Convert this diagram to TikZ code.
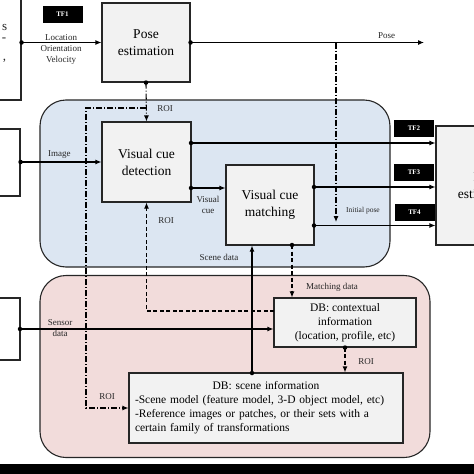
\documentclass[tikz,border=0pt]{standalone}
\usepackage{fontspec}
\setmainfont{Liberation Serif}
\usetikzlibrary{arrows.meta}

\definecolor{visblue}{RGB}{220,230,242}
\definecolor{dbred}{RGB}{242,220,219}
\definecolor{boxgray}{RGB}{242,242,242}

\tikzset{
    block/.style={draw=black!85, fill=boxgray, line width=1.1pt, align=center, inner sep=0pt,
        font=\fontsize{13.5}{17}\selectfont},
    source/.style={draw=black!85, fill=white, line width=1.1pt, inner sep=0pt},
    region/.style={draw=black!85, line width=1.1pt, rounded corners=26pt, inner sep=0pt},
    tfbox/.style={fill=black, text=white, minimum width=40pt, minimum height=17pt, inner sep=0pt,
        font=\fontsize{7}{8}\selectfont\bfseries},
    lbl/.style={align=center, text=black!85, font=\fontsize{9}{11}\selectfont},
    roi/.style={dash pattern=on 6pt off 2pt on 1pt off 2pt},
    dashline/.style={dash pattern=on 4pt off 2.5pt},
    dot/.style={circle, fill=black, inner sep=0pt, minimum size=4.5pt},
}

\begin{document}
\begin{tikzpicture}[x=1pt, y=-1pt, line width=1.1pt, >={Latex[length=6pt,width=5pt]}]
    \useasboundingbox (0,0) rectangle (474,474);
    \clip (0,0) rectangle (474,474);

    % regions
    \node[region, fill=visblue, minimum width=350, minimum height=167] (vis) at (215,183.5) {};
    \node[region, fill=dbred, minimum width=390, minimum height=182] (dbarea) at (235,366.5) {};

    % sources on the left
    \node[source, minimum width=32, minimum height=106] (src1) at (5,47) {};
    \node[source, minimum width=31, minimum height=67] (src2) at (4.5,162.5) {};
    \node[source, minimum width=31, minimum height=62] (src3) at (4.5,329) {};
    \node[lbl, font=\fontsize{13}{15}\selectfont, anchor=east] at (11,27) {s};
    \node[lbl, font=\fontsize{13}{15}\selectfont, anchor=east] at (10,40) {-};
    \node[lbl, font=\fontsize{13}{15}\selectfont, anchor=east] at (10,61) {,};

    % blocks
    \node[block, minimum width=88, minimum height=79] (PE) at (146,42.5) {Pose\\estimation};
    \node[block, minimum width=89, minimum height=80] (VCD) at (146.5,162) {Visual cue\\detection};
    \node[block, minimum width=88, minimum height=80] (VCM) at (270,205) {Visual cue\\matching};
    \node[block, minimum width=100, minimum height=119] (PE2) at (486,185.5) {Pose\\estimation};
    \node[block, minimum width=142, minimum height=49, font=\fontsize{11.5}{14}\selectfont] (DBc) at (345,322.5)
        {DB: contextual\\information\\(location, profile, etc)};
    \node[block, minimum width=274, minimum height=70, text width=262, align=left,
        font=\fontsize{11.5}{14}\selectfont] (DBs) at (266,408)
        {{\centering DB: scene information\par}-Scene model (feature model, 3-D object model, etc)\\
        -Reference images or patches, or their sets with a\\certain family of transformations};

    % TF tags
    \node[tfbox] (TF1) at (62.5,14.5) {TF1};
    \node[tfbox] (TF2) at (414,128) {TF2};
    \node[tfbox] (TF3) at (414,172.5) {TF3};
    \node[tfbox] (TF4) at (414.5,212.5) {TF4};

    % connection points
    \coordinate (poseout) at (424,42.5);
    \coordinate (ip) at (336,42.5);
    \coordinate (r1) at (146,108);
    \coordinate (r2) at (86,108);
    \coordinate (r3) at (86,408);
    \coordinate (d1) at (191,143);
    \coordinate (d2) at (191,188);
    \coordinate (m1) at (314,187);
    \coordinate (m2) at (314,225.5);
    \coordinate (md) at (292,245);
    \coordinate (sd) at (252,373);
    \coordinate (c1) at (274,311);
    \coordinate (sn) at (20,329);

    % connectors
    \draw[->] (src1.east |- PE.west) -- (PE.west);
    \draw[->] (PE.east) -- node[lbl, above, pos=0.84] {Pose} (poseout);
    \draw[->, roi] (ip) -- (ip |- 0,222);
    \draw[->, roi] (PE.south) -- (VCD.north);
    \draw[->, roi] (r1) -- (r2) -- (r3) -- (DBs.west);
    \draw[->] (src2.east |- VCD.west) -- node[lbl, above, pos=0.48] {Image} (VCD.west);
    \draw[->] (d1) -- (d1 -| PE2.west);
    \draw[->] (d2) -- (d2 -| VCM.west);
    \draw[->] (m1) -- (m1 -| PE2.west);
    \draw[->] (m2) -- (m2 -| PE2.west);
    \draw[->] (sd) -- (sd |- VCM.south);
    \draw[->, dashline] (md) -- (md |- DBc.north);
    \draw[->, dashline] (c1) -- (c1 -| VCD.south) -- (VCD.south);
    \draw[->] (sn) -- (sn -| DBc.west);
    \draw[->, dashline] (DBc.south) -- (DBc.south |- DBs.north);

    % dots
    \foreach \p in {src1.east |- PE.west, PE.east, PE.south, src2.east |- VCD.west, d1, d2, m1, m2, md, sd, DBc.south, sn}
        \node[dot] at (\p) {};

    % labels
    \node[lbl] at (61,49) {Location\\Orientation\\Velocity};
    \node[lbl] at (165,109) {ROI};
    \node[lbl] at (166,221) {ROI};
    \node[lbl] at (208,205) {Visual\\cue};
    \node[lbl, font=\fontsize{7.5}{9}\selectfont] at (363,211) {Initial pose};
    \node[lbl] at (219,257) {Scene data};
    \node[lbl] at (332,287) {Matching data};
    \node[lbl] at (60,328) {Sensor\\data};
    \node[lbl] at (366,362) {ROI};
    \node[lbl] at (107,397) {ROI};

    % strip at the bottom
    \fill[black] (0,464) rectangle (474,474);
\end{tikzpicture}
\end{document}
